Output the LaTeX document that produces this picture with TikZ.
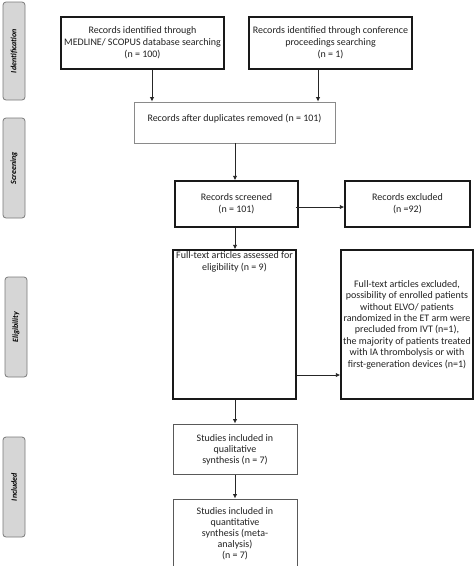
\documentclass[tikz,border=0pt]{standalone}
\usepackage{fontspec}
\setmainfont{Carlito}
\usetikzlibrary{arrows.meta,calc}
\definecolor{txt}{HTML}{222222}
\definecolor{sidefill}{HTML}{D6D6D6}
\definecolor{sideline}{HTML}{7A7A7A}
\definecolor{thinline}{HTML}{8A8A8A}
\begin{document}
\begin{tikzpicture}[x=1pt,y=-1pt,
  every node/.style={text=txt,font=\fontsize{10}{12}\selectfont},
  thickbox/.style={draw=black!90,line width=1.4pt,inner sep=1pt,align=center},
  thinbox/.style={draw=thinline,line width=0.8pt,inner sep=1pt,align=center},
  midbox/.style={draw=black!65,line width=1pt,inner sep=1pt,align=center},
  sidebox/.style={draw=sideline,fill=sidefill,rounded corners=3pt,line width=0.8pt,minimum width=22pt},
  sidetext/.style={rotate=90,font=\bfseries\itshape\fontsize{8}{9}\selectfont,text=black},
  arr/.style={-{Latex[length=4.5pt,width=4.5pt]},line width=0.9pt,draw=black!85}]
\clip (0,0) rectangle (474,566);
\fill[white] (0,0) rectangle (474,566);

% side labels
\node[sidebox,minimum height=98pt] (sid) at (14,51) {};
\node[sidetext] (sidt) at (sid.center) {Identification};
\node[sidebox,minimum height=100pt] (sscr) at (14,168) {};
\node[sidetext] (sscrt) at (sscr.center) {Screening};
\node[sidebox,minimum height=100pt] (selg) at (16,327) {};
\node[sidetext] (selgt) at (selg.center) {Eligibility};
\node[sidebox,minimum height=100pt] (sinc) at (14,487) {};
\node[sidetext] (sinct) at (sinc.center) {Included};

% boxes
\node[thickbox,minimum width=163pt,minimum height=52pt] (b1) at (142.5,43)
  {Records identified through\\MEDLINE/ SCOPUS database searching\\(n = 100)};
\node[thickbox,minimum width=163pt,minimum height=52pt] (b2) at (330.5,43)
  {Records identified through conference\\proceedings searching\\(n = 1)};
\node[thinbox,minimum width=201pt,minimum height=41pt,text depth=9pt] (b3) at (234.5,122.5)
  {Records after duplicates removed (n = 101)};
\node[thickbox,minimum width=123pt,minimum height=46pt] (scr) at (236.5,204)
  {Records screened\\(n = 101)};
\node[thickbox,minimum width=125pt,minimum height=46pt] (ex1) at (407.5,204)
  {Records excluded\\(n =92)};
\node[thickbox,minimum width=123pt,minimum height=149pt] (ft) at (234.5,324.5) {};
\node[anchor=north,align=center,inner sep=0pt,font=\fontsize{10}{11.5}\selectfont] (ftt) at ($(ft.north)+(0,2.5)$)
  {Full-text articles assessed for\\eligibility (n = 9)};
\node[thickbox,minimum width=132pt,minimum height=149pt,font=\fontsize{10}{11.4}\selectfont] (ex2) at (407,324.5)
  {Full-text articles excluded,\\possibility of enrolled patients\\without ELVO/ patients\\randomized in the ET arm were\\precluded from IVT (n=1),\\the majority of patients treated\\with IA thrombolysis or with\\first-generation devices (n=1)};
\node[midbox,minimum width=124pt,minimum height=50pt,font=\fontsize{10}{11}\selectfont,text depth=0pt] (q1) at (235,449)
  {\\[-4pt]Studies included in\\qualitative\\synthesis (n = 7)};
\node[midbox,minimum width=124pt,minimum height=71pt,font=\fontsize{10}{11}\selectfont] (q2) at (235,534.5)
  {\\[-6pt]Studies included in\\quantitative\\synthesis (meta-\\analysis)\\(n = 7)};

% connectors
\draw[arr] (b1.south -| 152,0) -- (b3.north -| 152,0);
\draw[arr] (b2.south -| 318,0) -- (b3.north -| 318,0);
\draw[arr] (b3.south -| 235,0) -- (scr.north -| 235,0);
\draw[arr] ($(scr.east)+(-3,3)$) -- (ex1.west |- 0,207);
\draw[arr] (scr.south -| 235,0) -- (ft.north -| 235,0);
\draw[arr] (ft.east |- 0,375) -- (ex2.west |- 0,375);
\draw[arr] (ft.south -| 235,0) -- (q1.north -| 235,0);
\draw[arr] (q1.south -| 235,0) -- (q2.north -| 235,0);
\end{tikzpicture}
\end{document}
